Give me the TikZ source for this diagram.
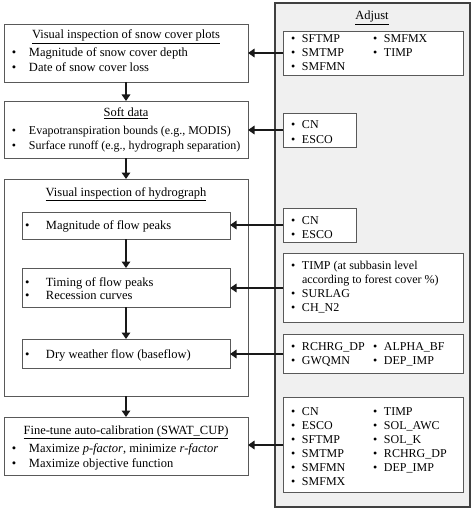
\documentclass[tikz,border=0pt]{standalone}
\usepackage{fontspec}
\setmainfont{Liberation Serif}
\usetikzlibrary{arrows.meta}
\newcommand\itm[2]{\makebox[#1][l]{\textbullet}#2}
\begin{document}
\begin{tikzpicture}[x=1pt,y=-1pt,
  box/.style={draw=black!65,line width=0.9pt,fill=white,inner sep=0pt,outer sep=0pt},
  panel/.style={draw=black!75,line width=1.2pt,fill=black!6,inner sep=0pt,outer sep=0pt},
  txt/.style={inner sep=0pt,outer sep=0pt,font=\fontsize{12.5}{15}\selectfont,anchor=base west},
  rtxt/.style={inner sep=0pt,outer sep=0pt,font=\fontsize{12}{14}\selectfont,anchor=base west},
  ttl/.style={inner sep=0pt,outer sep=0pt,font=\fontsize{12.5}{15}\selectfont,anchor=base},
  arr/.style={line width=1.8pt,black!90,-{Triangle[length=6.5pt,width=8.5pt]}}]
\useasboundingbox (0,0) rectangle (474,513);
% left column
\node[box,minimum width=244pt,minimum height=58pt] (b1) at (126,53) {};
\node[box,minimum width=244pt,minimum height=57pt] (b2) at (126,129.5) {};
\node[box,minimum width=244pt,minimum height=217pt] (b3) at (126,287.5) {};
\node[box,minimum width=208pt,minimum height=27pt] (ia) at (126,225.5) {};
\node[box,minimum width=208pt,minimum height=39pt] (ib) at (126,287.5) {};
\node[box,minimum width=208pt,minimum height=29pt] (ic) at (126,353.5) {};
\node[box,minimum width=244pt,minimum height=58pt] (b5) at (126,446) {};
% left texts
\node[ttl] (t1) at (126,39) {\underline{Visual inspection of snow cover plots}};
\node[txt] (l1) at (12,57) {\begin{tabular}[t]{@{}l@{}}\itm{17pt}{Magnitude of snow cover depth}\\\itm{17pt}{Date of snow cover loss}\end{tabular}};
\node[ttl] (t2) at (126,117) {\underline{Soft data}};
\node[txt,font=\fontsize{12}{15}\selectfont] (l2) at (12,135) {\begin{tabular}[t]{@{}l@{}}\itm{17pt}{Evapotranspiration bounds (e.g., MODIS)}\\\itm{17pt}{Surface runoff (e.g., hydrograph separation)}\end{tabular}};
\node[ttl] (t3) at (126,196) {\underline{Visual inspection of hydrograph}};
\node[txt] (la) at (25,229) {\itm{21pt}{Magnitude of flow peaks}};
\node[rtxt,font=\fontsize{12.5}{13}\selectfont] (lb) at (25,286) {\begin{tabular}[t]{@{}l@{}}\itm{21pt}{Timing of flow peaks}\\\itm{21pt}{Recession curves}\end{tabular}};
\node[txt] (lc) at (25,358) {\itm{21pt}{Dry weather flow (baseflow)}};
\node[ttl] (t5) at (126,434) {\underline{Fine-tune auto-calibration (SWAT\_CUP)}};
\node[txt] (l5) at (12,452) {\begin{tabular}[t]{@{}l@{}}\itm{17pt}{Maximize \textit{p-factor}, minimize \textit{r-factor}}\\\itm{17pt}{Maximize objective function}\end{tabular}};
% right panel
\node[panel,minimum width=195pt,minimum height=504pt] (pn) at (372.5,255) {};
\node[ttl] (tp) at (372,20) {\underline{Adjust}};
\node[box,minimum width=180pt,minimum height=44pt] (r1) at (373,53) {};
\node[box,minimum width=73pt,minimum height=34pt] (r2) at (319.5,130) {};
\node[box,minimum width=73pt,minimum height=34pt] (r3) at (319.5,225) {};
\node[box,minimum width=180pt,minimum height=69pt] (r4) at (373,288) {};
\node[box,minimum width=180pt,minimum height=39pt] (r5) at (373,354) {};
\node[box,minimum width=180pt,minimum height=95pt] (r6) at (373,445) {};
% right texts
\node[rtxt] (p1a) at (291,43) {\begin{tabular}[t]{@{}l@{}}\itm{11pt}{SFTMP}\\\itm{11pt}{SMTMP}\\\itm{11pt}{SMFMN}\end{tabular}};
\node[rtxt] (p1b) at (373,43) {\begin{tabular}[t]{@{}l@{}}\itm{11pt}{SMFMX}\\\itm{11pt}{TIMP}\end{tabular}};
\node[rtxt] (p2) at (291,129) {\begin{tabular}[t]{@{}l@{}}\itm{11pt}{CN}\\\itm{11pt}{ESCO}\end{tabular}};
\node[rtxt] (p3) at (291,224) {\begin{tabular}[t]{@{}l@{}}\itm{11pt}{CN}\\\itm{11pt}{ESCO}\end{tabular}};
\node[rtxt] (p4) at (291,269) {\begin{tabular}[t]{@{}l@{}}\itm{11pt}{TIMP (at subbasin level}\\\hspace{11pt}according to forest cover \%)\\\itm{11pt}{SURLAG}\\\itm{11pt}{CH\_N2}\end{tabular}};
\node[rtxt] (p5a) at (291,350) {\begin{tabular}[t]{@{}l@{}}\itm{11pt}{RCHRG\_DP}\\\itm{11pt}{GWQMN}\end{tabular}};
\node[rtxt] (p5b) at (373,350) {\begin{tabular}[t]{@{}l@{}}\itm{11pt}{ALPHA\_BF}\\\itm{11pt}{DEP\_IMP}\end{tabular}};
\node[rtxt] (p6a) at (291,415) {\begin{tabular}[t]{@{}l@{}}\itm{11pt}{CN}\\\itm{11pt}{ESCO}\\\itm{11pt}{SFTMP}\\\itm{11pt}{SMTMP}\\\itm{11pt}{SMFMN}\\\itm{11pt}{SMFMX}\end{tabular}};
\node[rtxt] (p6b) at (373,415) {\begin{tabular}[t]{@{}l@{}}\itm{11pt}{TIMP}\\\itm{11pt}{SOL\_AWC}\\\itm{11pt}{SOL\_K}\\\itm{11pt}{RCHRG\_DP}\\\itm{11pt}{DEP\_IMP}\end{tabular}};
% vertical arrows
\draw[arr] (b1.south) -- (b2.north);
\draw[arr] (b2.south) -- (b3.north);
\draw[arr] (ia.south) -- (ib.north);
\draw[arr] (ib.south) -- (ic.north);
\draw[arr] (b3.south) -- (b5.north);
% horizontal arrows
\draw[arr] (r1.west) -- (r1.west -| b1.east);
\draw[arr] (r2.west) -- (r2.west -| b2.east);
\draw[arr] (r3.west) -- (r3.west -| ia.east);
\draw[arr] (r4.west) -- (r4.west -| ib.east);
\draw[arr] (r5.west) -- (r5.west -| ic.east);
\draw[arr] (r6.west) -- (r6.west -| b5.east);
\end{tikzpicture}
\end{document}
